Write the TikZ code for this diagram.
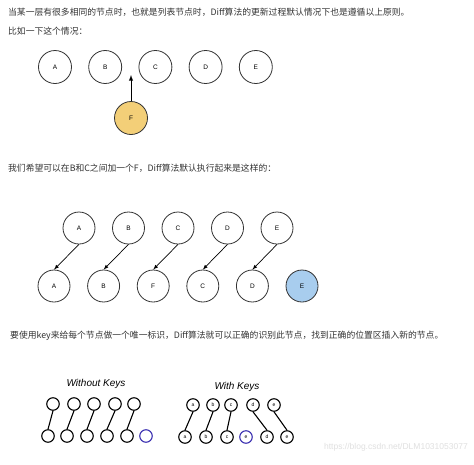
\documentclass[tikz,border=0pt]{standalone}
\usepackage{fontspec}
\usepackage{tikz}
\newfontfamily\cjk{Noto Sans CJK SC}
\setsansfont{Liberation Sans}
\definecolor{txtgray}{HTML}{333333}
\definecolor{fyellow}{HTML}{F3CF78}
\definecolor{eblue}{HTML}{A8CDEE}
\definecolor{penblue}{HTML}{3A2FB0}
\tikzset{
  para/.style={anchor=west,inner sep=0pt,text=txtgray,font=\cjk\fontsize{8.8}{10}\selectfont},
  nd/.style={circle,draw=black!80,line width=0.8pt,minimum size=33pt,inner sep=0pt,font=\sffamily\fontsize{6.5}{7}\selectfont},
  sk/.style={circle,draw=black,line width=1.1pt,minimum size=12.5pt,inner sep=0pt,font=\sffamily\fontsize{5}{5}\selectfont},
  hand/.style={font=\sffamily\itshape\fontsize{10}{11}\selectfont}
}

\begin{document}
\begin{tikzpicture}[x=1pt,y=-1pt]
    \fill[white] (0,0) rectangle (474,464);
    \useasboundingbox (0,0) rectangle (474,464);
    % text lines
    \node[para] (p1) at (8,12) {当某一层有很多相同的节点时，也就是列表节点时，Diff算法的更新过程默认情况下也是遵循以上原则。};
    \node[para] (p2) at (8,31) {比如一下这个情况：};
    \node[para] (p3) at (8,168) {我们希望可以在B和C之间加一个F，Diff算法默认执行起来是这样的：};
    \node[para] (p4) at (10,336) {要使用key来给每个节点做一个唯一标识，Diff算法就可以正确的识别此节点，找到正确的位置区插入新的节点。};

    % first picture
    \foreach \n [count=\i] in {A,B,C,D,E}
        \node[nd] (t\n) at ({55+50.2*(\i-1)},67) {\n};
    \node[nd,fill=fyellow] (tF) at (131,118) {F};
    \coordinate (tip) at (131,75);
    \draw[-latex,line width=0.9pt] (tF) -- (tip);

    % second picture
    \foreach \n [count=\i] in {A,B,C,D,E}
        \node[nd,minimum size=32pt] (u\i) at ({79+49.5*(\i-1)},228) {\n};
    \foreach \n [count=\i] in {A,B,F,C,D}
        \node[nd,minimum size=32pt] (l\i) at ({54+49.6*(\i-1)},286) {\n};
    \node[nd,minimum size=32pt,fill=eblue] (l6) at (302,286) {E};
    \foreach \i in {1,...,5}
        \draw[-latex,line width=0.7pt] (u\i.south) -- (l\i.north);

    % without keys
    \node[hand] (wk) at (96,384) {Without Keys};
    \foreach \x [count=\i] in {53,74,94,115,134}
        \node[sk] (wt\i) at (\x,404) {};
    \foreach \x [count=\i] in {48,67,87,107,127}
        \node[sk] (wb\i) at (\x,436) {};
    \node[sk,draw=penblue] (wb6) at (146,436) {};
    \foreach \i in {1,...,5}
        \draw[line width=1.1pt] (wt\i.south) -- (wb\i.north);

    % with keys
    \node[hand] (kk) at (237,387) {With Keys};
    \foreach \n/\x in {a/193,b/213,c/231,d/253,e/274}
        \node[sk] (kt\n) at (\x,405) {\n};
    \foreach \n/\x in {a/185,b/206,c/227,d/267,e/287}
        \node[sk] (kb\n) at (\x,437) {\n};
    \node[sk,draw=penblue] (kbx) at (246,437) {e};
    \foreach \n in {a,b,c,d,e}
        \draw[line width=1.1pt] (kt\n.south) -- (kb\n.north);

    % watermark
    \node[anchor=east,inner sep=0pt,text=black!12,font=\sffamily\fontsize{8.5}{9}\selectfont] (wm) at (468,447) {https://blog.csdn.net/DLM1031053077};
\end{tikzpicture}
\end{document}
